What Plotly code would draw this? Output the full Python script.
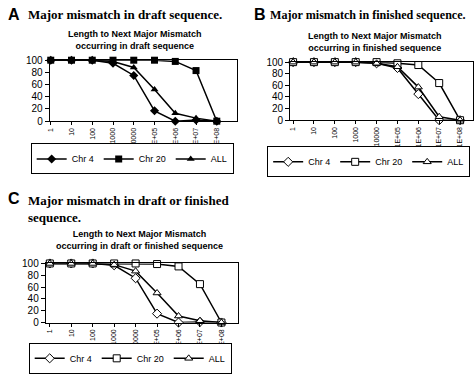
import plotly.graph_objects as go

W, H = 474, 374

categories = ["1", "10", "100", "1000", "10000", "1E+05", "1E+06", "1E+07", "1E+08"]
series_names = ["Chr 4", "Chr 20", "ALL"]

# Panel A: draft sequence
a_chr4 = [100, 100, 100, 95, 75, 17, 0, 2, 0]
a_chr20 = [100, 100, 100, 100, 100, 100, 98, 83, 0]
a_all = [100, 100, 100, 98, 88, 52, 13, 5, 0]

# Panel B: finished sequence
b_chr4 = [100, 100, 100, 100, 98, 90, 45, 0, 0]
b_chr20 = [100, 100, 100, 100, 100, 98, 95, 64, 0]
b_all = [100, 100, 100, 100, 98, 92, 57, 6, 0]

# Panel C: draft or finished sequence
c_chr4 = [100, 100, 100, 97, 75, 15, 0, 1, 0]
c_chr20 = [100, 100, 100, 100, 100, 99, 95, 65, 0]
c_all = [100, 100, 100, 98, 87, 50, 11, 3, 0]

y_ticks = [0, 20, 40, 60, 80, 100]

panel_letters = ["A", "B", "C"]
panel_headings = ["Major mismatch in draft sequence.",
                  "Major mismatch in finished sequence.",
                  "Major mismatch in draft or finished<br>sequence."]
chart_titles = ["Length to Next Major Mismatch<br>occurring in draft sequence",
                "Length to Next Major Mismatch<br>occurring in finished sequence",
                "Length to Next Major Mismatch<br>occurring in draft or finished sequence"]


def px_x(p):
    return p / W


def px_y(p):
    return 1 - p / H


panels = [
    dict(data=[a_chr4, a_chr20, a_all], filled=True,
         xdom=(47, 235), ydom=(56, 119), xr=[-0.05, 8.95],
         head=(3, 23, 9, 13), title=(133, 35), legend=(130, 158)),
    dict(data=[b_chr4, b_chr20, b_all], filled=False,
         xdom=(289, 473), ydom=(58, 118), xr=[-0.14, 8.62],
         head=(251, 267, 9, 12.1), title=(374, 37), legend=(368, 161)),
    dict(data=[c_chr4, c_chr20, c_all], filled=False,
         xdom=(43, 236), ydom=(266, 327), xr=[-0.19, 8.75],
         head=(3, 23, 199, 13), title=(137, 242), legend=(128, 364)),
]

symbols = ["diamond", "square", "triangle-up"]

fig = go.Figure()
layout = dict(width=W, height=H, margin=dict(l=0, r=0, t=0, b=0), autosize=False,
              paper_bgcolor="white", plot_bgcolor="white", showlegend=True,
              font=dict(family="Liberation Sans, Arial", color="black"))
annotations = []

for i, p in enumerate(panels):
    sfx = "" if i == 0 else str(i + 1)
    lg = "legend" if i == 0 else "legend" + str(i + 1)
    for j, name in enumerate(series_names):
        mk = dict(symbol=symbols[j], size=7,
                  color="black" if p["filled"] else "white",
                  line=dict(color="black", width=1 if not p["filled"] else 0))
        fig.add_trace(go.Scatter(
            x=categories, y=p["data"][j], name=name, mode="lines+markers",
            line=dict(color="black", width=1.5), marker=mk, cliponaxis=False,
            xaxis="x" + sfx, yaxis="y" + sfx, legend=lg, showlegend=True))
    layout["xaxis" + sfx] = dict(
        domain=[px_x(p["xdom"][0]), px_x(p["xdom"][1])], anchor="y" + sfx,
        type="category", categoryorder="array", categoryarray=categories,
        range=p["xr"], tickangle=-90, tickfont=dict(size=7),
        showline=True, linecolor="black", linewidth=1, mirror=True,
        ticks="outside", ticklen=3, tickcolor="black", showgrid=False, zeroline=False,
        fixedrange=True)
    layout["yaxis" + sfx] = dict(
        domain=[px_y(p["ydom"][1]), px_y(p["ydom"][0])], anchor="x" + sfx,
        range=[0, 100], tickvals=y_ticks, tickfont=dict(size=10),
        showline=True, linecolor="black", linewidth=1, mirror=True,
        ticks="outside", ticklen=4, tickcolor="black", showgrid=False, zeroline=False,
        fixedrange=True)
    layout[lg] = dict(
        orientation="h", x=px_x(p["legend"][0]), y=px_y(p["legend"][1]),
        xanchor="center", yanchor="middle", bordercolor="black", borderwidth=1,
        font=dict(size=9), itemwidth=30, tracegroupgap=0, bgcolor="white")
    hx_l, hx_t, hy, hsize = p["head"]
    annotations.append(dict(
        text="<b>" + panel_letters[i] + "</b>", x=px_x(hx_l), y=px_y(hy),
        xref="paper", yref="paper", xanchor="left", yanchor="middle", showarrow=False,
        font=dict(family="Liberation Sans, Arial", size=16, color="black")))
    annotations.append(dict(
        text="<b>" + panel_headings[i] + "</b>", x=px_x(hx_t), y=px_y(hy),
        xref="paper", yref="paper", xanchor="left", yanchor="middle" if i != 2 else "top",
        yshift=0 if i != 2 else 8, align="left", showarrow=False,
        font=dict(family="Liberation Serif, Times New Roman", size=hsize, color="black")))
    annotations.append(dict(
        text="<b>" + chart_titles[i] + "</b>", x=px_x(p["title"][0]), y=px_y(p["title"][1]),
        xref="paper", yref="paper", xanchor="center", yanchor="middle", showarrow=False,
        font=dict(family="Liberation Sans, Arial", size=9, color="black")))

layout["annotations"] = annotations
fig.update_layout(**layout)
fig.write_html("out.html", config={"displayModeBar": False},
               post_script="document.body.style.margin='0';document.body.style.overflow='hidden';")
